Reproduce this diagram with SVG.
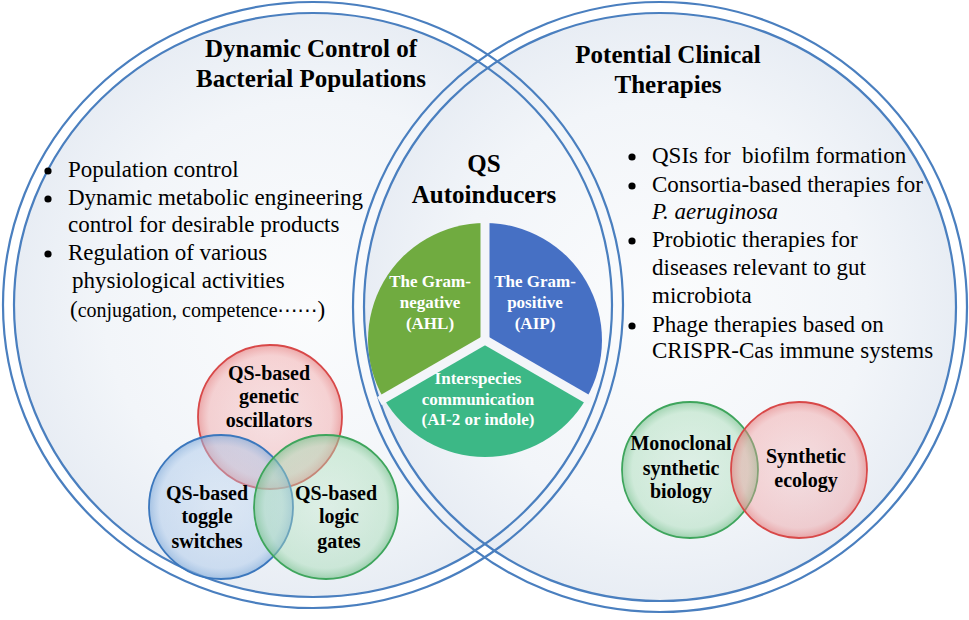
<svg xmlns="http://www.w3.org/2000/svg" width="969" height="620" viewBox="0 0 969 620">
<defs>
<radialGradient id="bigFill" cx="50%" cy="50%" r="50%">
<stop offset="0" stop-color="#fbfcfd"/>
<stop offset="0.7" stop-color="#f2f5f9"/>
<stop offset="1" stop-color="#e8edf4"/>
</radialGradient>
<radialGradient id="redFill" cx="50%" cy="50%" r="50%">
<stop offset="0" stop-color="#f7a9a9" stop-opacity="0.3"/>
<stop offset="0.85" stop-color="#f29a9a" stop-opacity="0.42"/>
<stop offset="1" stop-color="#e57373" stop-opacity="0.6"/>
</radialGradient>
<radialGradient id="blueFill" cx="50%" cy="50%" r="50%">
<stop offset="0" stop-color="#b5cfec" stop-opacity="0.35"/>
<stop offset="0.85" stop-color="#a9c7ea" stop-opacity="0.47"/>
<stop offset="1" stop-color="#7ea9d9" stop-opacity="0.65"/>
</radialGradient>
<radialGradient id="greenFill" cx="50%" cy="50%" r="50%">
<stop offset="0" stop-color="#b6e2c2" stop-opacity="0.35"/>
<stop offset="0.85" stop-color="#a6dcb5" stop-opacity="0.47"/>
<stop offset="1" stop-color="#74c08a" stop-opacity="0.65"/>
</radialGradient>
</defs>
<style>
.ring{fill:none;stroke:#4a7fbf;stroke-width:2.2}
text{font-family:'Liberation Serif','Times New Roman',serif}
.title{font-weight:bold;font-size:25px;fill:#000;text-anchor:middle}
.body{font-size:23px;fill:#000}
.pie{font-weight:bold;font-size:17px;fill:#fff;text-anchor:middle}
.small{font-weight:bold;font-size:20px;fill:#000;text-anchor:middle}
.bullet{fill:#000}
.gap{stroke:#f3f5f9;stroke-width:9;stroke-linecap:butt}
</style>
<rect width="969" height="620" fill="#ffffff"/>

<g id="big-circles-fill">
<ellipse cx="313" cy="305" rx="299" ry="292" fill="url(#bigFill)"/>
<ellipse cx="660" cy="307" rx="296" ry="294" fill="url(#bigFill)"/>
</g>

<g id="dynamic-control">
<ellipse class="ring" cx="313" cy="305" rx="310" ry="303"/>
<ellipse class="ring" cx="313" cy="305" rx="299" ry="292"/>
<text class="title" x="311" y="57">Dynamic Control of</text>
<text class="title" x="311" y="87">Bacterial Populations</text>
<circle class="bullet" cx="48" cy="171" r="3.6"/>
<circle class="bullet" cx="48" cy="199" r="3.6"/>
<circle class="bullet" cx="48" cy="254" r="3.6"/>
<text class="body" x="68" y="177">Population control</text>
<text class="body" x="68" y="205">Dynamic metabolic engineering</text>
<text class="body" x="68" y="232">control for desirable products</text>
<text class="body" x="68" y="260">Regulation of various</text>
<text class="body" x="72" y="288">physiological activities</text>
<text class="body" x="70" y="317">(<tspan font-size="20px">conjugation, competence</tspan><tspan font-size="20px" style="font-family:'DejaVu Sans',sans-serif">⋯⋯</tspan>)</text>
</g>

<g id="clinical-therapies">
<ellipse class="ring" cx="660" cy="307" rx="307" ry="305"/>
<ellipse class="ring" cx="660" cy="307" rx="296" ry="294"/>
<text class="title" x="668" y="63">Potential Clinical</text>
<text class="title" x="668" y="93">Therapies</text>
<circle class="bullet" cx="632" cy="157" r="3.6"/>
<circle class="bullet" cx="632" cy="186" r="3.6"/>
<circle class="bullet" cx="632" cy="241" r="3.6"/>
<circle class="bullet" cx="632" cy="326" r="3.6"/>
<text class="body" x="652" y="163" xml:space="preserve">QSIs for  biofilm formation</text>
<text class="body" x="652" y="192">Consortia-based therapies for</text>
<text class="body" x="652" y="219" font-style="italic">P. aeruginosa</text>
<text class="body" x="652" y="247">Probiotic therapies for</text>
<text class="body" x="652" y="275">diseases relevant to gut</text>
<text class="body" x="652" y="303">microbiota</text>
<text class="body" x="652" y="332">Phage therapies based on</text>
<text class="body" x="652" y="358">CRISPR-Cas immune systems</text>
</g>

<g id="qs-autoinducers">
<text class="title" x="484" y="172">QS</text>
<text class="title" x="484" y="203">Autoinducers</text>
<g id="gram-negative">
<path d="M485,340 L383.7,398.5 A117,117 0 0 1 485,223 Z" fill="#70ab40"/>
<text class="pie" x="430" y="287">The Gram-</text>
<text class="pie" x="430" y="308">negative</text>
<text class="pie" x="430" y="329">(AHL)</text>
</g>
<g id="gram-positive">
<path d="M485,340 L485,223 A117,117 0 0 1 586.3,398.5 Z" fill="#4670c4"/>
<text class="pie" x="535" y="287">The Gram-</text>
<text class="pie" x="535" y="308">positive</text>
<text class="pie" x="535" y="329">(AIP)</text>
</g>
<g id="interspecies">
<path d="M485,340 L586.3,398.5 A117,117 0 0 1 383.7,398.5 Z" fill="#3cb886"/>
<text class="pie" x="478" y="384">Interspecies</text>
<text class="pie" x="478" y="405">communication</text>
<text class="pie" x="478" y="425">(AI-2 or indole)</text>
</g>
<g id="pie-gaps">
<line class="gap" x1="485" y1="340" x2="485" y2="218"/>
<line class="gap" x1="485" y1="340" x2="590.6" y2="401"/>
<line class="gap" x1="485" y1="340" x2="379.4" y2="401"/>
</g>
</g>

<g id="small-venn-left">
<g id="genetic-oscillators">
<circle cx="270" cy="417" r="72" fill="url(#redFill)" stroke="#d84848" stroke-width="1.8"/>
</g>
<g id="toggle-switches">
<circle cx="221" cy="507" r="72" fill="url(#blueFill)" stroke="#3b77bd" stroke-width="1.8"/>
</g>
<g id="logic-gates">
<circle cx="326" cy="507" r="72" fill="url(#greenFill)" stroke="#3ea55c" stroke-width="1.8"/>
</g>
<text class="small" x="269" y="380">QS-based</text>
<text class="small" x="269" y="403">genetic</text>
<text class="small" x="269" y="427">oscillators</text>
<text class="small" x="207" y="500">QS-based</text>
<text class="small" x="207" y="523">toggle</text>
<text class="small" x="207" y="548">switches</text>
<text class="small" x="336" y="500">QS-based</text>
<text class="small" x="339" y="523">logic</text>
<text class="small" x="339" y="548">gates</text>
</g>

<g id="small-venn-right">
<g id="monoclonal">
<circle cx="690" cy="470" r="68" fill="url(#greenFill)" stroke="#3ea55c" stroke-width="1.8"/>
</g>
<g id="synthetic-ecology">
<circle cx="799" cy="470" r="68" fill="url(#redFill)" stroke="#d84848" stroke-width="1.8"/>
</g>
<text class="small" x="681" y="450">Monoclonal</text>
<text class="small" x="681" y="475">synthetic</text>
<text class="small" x="681" y="498">biology</text>
<text class="small" x="806" y="463">Synthetic</text>
<text class="small" x="806" y="487">ecology</text>
</g>
</svg>
